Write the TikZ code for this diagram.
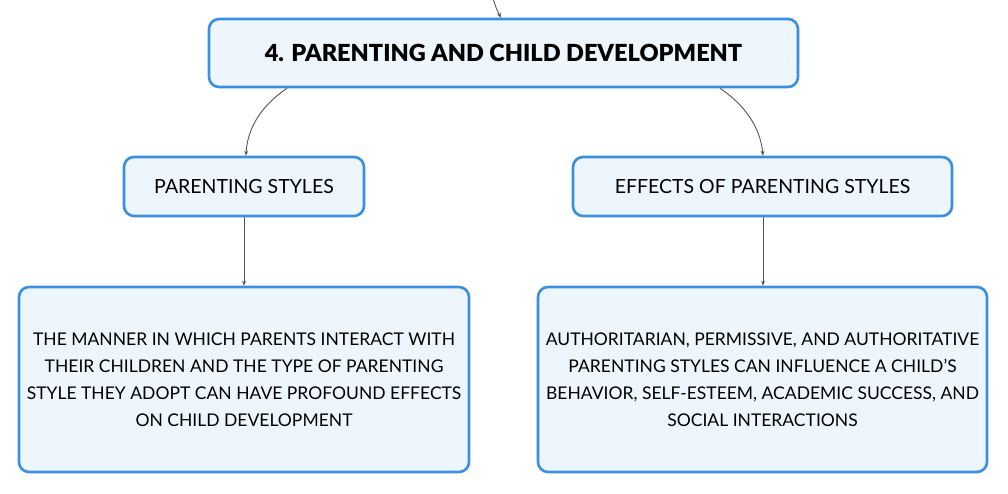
\documentclass[tikz,border=0pt]{standalone}
\usepackage{fontspec}
\setmainfont{Lato}
\newfontfamily\titlefont{Lato Black}
\usetikzlibrary{arrows.meta}
\definecolor{boxline}{HTML}{3A8FE0}
\definecolor{boxfill}{HTML}{EEF6FD}
\definecolor{conn}{HTML}{555555}
\begin{document}
\begin{tikzpicture}[x=1pt,y=-1pt,
  box/.style={draw=boxline, line width=2.6pt, fill=boxfill, rounded corners=10pt, align=center, inner sep=0pt, text=black},
  link/.style={draw=conn, line width=0.9pt, -{Stealth[length=5pt,width=4pt]}}]
\useasboundingbox (0,0) rectangle (1008,494);
\node[box, minimum width=589pt, minimum height=68pt, font=\fontsize{23.5}{28}\selectfont\titlefont] (root) at (503.5,53) {4. PARENTING AND CHILD DEVELOPMENT};
\node[box, minimum width=240pt, minimum height=59pt, font=\fontsize{19.5}{23}\selectfont] (ps) at (244,186.5) {PARENTING STYLES};
\node[box, minimum width=379pt, minimum height=59pt, font=\fontsize{19.5}{23}\selectfont] (eps) at (762.5,186.5) {EFFECTS OF PARENTING STYLES};
\node[box, minimum width=450pt, minimum height=185pt, font=\fontsize{17.5}{27}\selectfont] (d1) at (244,379.5) {THE MANNER IN WHICH PARENTS INTERACT WITH\\THEIR CHILDREN AND THE TYPE OF PARENTING\\STYLE THEY ADOPT CAN HAVE PROFOUND EFFECTS\\ON CHILD DEVELOPMENT};
\node[box, minimum width=449pt, minimum height=185pt, font=\fontsize{17.5}{27}\selectfont] (d2) at (762.5,379.5) {AUTHORITARIAN, PERMISSIVE, AND AUTHORITATIVE\\PARENTING STYLES CAN INFLUENCE A CHILD’S\\BEHAVIOR, SELF-ESTEEM, ACADEMIC SUCCESS, AND\\SOCIAL INTERACTIONS};
\coordinate (up) at (493,-2);
\draw[link] (up) .. controls (496,8) .. (root.north -| 501,0);
\draw[link] (root.south -| 287,0) .. controls (255,110) and (247,135) .. (ps.north -| 246,0);
\draw[link] (root.south -| 720,0) .. controls (752,110) and (761,135) .. (eps.north -| 763,0);
\draw[link] (ps.south) -- (d1.north);
\draw[link] (eps.south -| 763,0) -- (d2.north -| 763,0);
\end{tikzpicture}
\end{document}
